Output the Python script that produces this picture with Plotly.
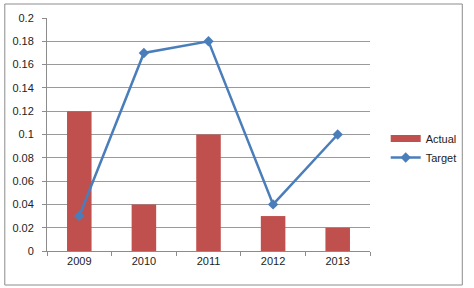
import plotly.graph_objects as go

years = ["2009", "2010", "2011", "2012", "2013"]
actual = [0.12, 0.04, 0.10, 0.03, 0.02]
target = [0.03, 0.17, 0.18, 0.04, 0.10]
yticks = [0, 0.02, 0.04, 0.06, 0.08, 0.1, 0.12, 0.14, 0.16, 0.18, 0.2]
ytick_text = ["0", "0.02", "0.04", "0.06", "0.08", "0.1", "0.12", "0.14", "0.16", "0.18", "0.2"]

W, H = 474, 288
L, R, T, B = 47, 98, 18, 37
pw, ph = W - L - R, H - T - B

def px(x):
    return (x - L) / pw

def py(y):
    return (H - B - y) / ph

fig = go.Figure()
fig.add_trace(go.Bar(x=years, y=actual, name="Actual", showlegend=False,
                     marker=dict(color="#C0504D", line=dict(width=0))))
# legend proxy for the bar series (rectangular swatch)
fig.add_trace(go.Scatter(x=[None], y=[None], name="Actual", mode="lines",
                         line=dict(color="#C0504D", width=7)))
fig.add_trace(go.Scatter(x=years, y=target, name="Target", mode="lines+markers",
                         line=dict(color="#4A7EBB", width=2.5),
                         marker=dict(symbol="diamond", size=8, color="#4A7EBB")))

fig.update_layout(
    width=W, height=H,
    margin=dict(l=L, r=R, t=T, b=B),
    paper_bgcolor="white", plot_bgcolor="white",
    font=dict(family="Liberation Sans", size=11, color="#222"),
    bargap=0.62,
    showlegend=True,
    legend=dict(x=px(392), y=py(124), xanchor="left", yanchor="top",
                bgcolor="rgba(0,0,0,0)", itemwidth=30, tracegroupgap=4,
                font=dict(size=11)),
    shapes=[dict(type="rect", xref="paper", yref="paper",
                 x0=px(4), x1=px(470), y0=py(285), y1=py(4),
                 line=dict(color="#8C8C8C", width=1), layer="below")],
)
fig.update_xaxes(showgrid=False, showline=True, linecolor="#8C8C8C", linewidth=1,
                 ticks="outside", ticklen=4, tickcolor="#8C8C8C", tickson="boundaries",
                 tickfont=dict(size=11))
fig.update_yaxes(range=[0, 0.2], tickvals=yticks, ticktext=ytick_text,
                 showgrid=True, gridcolor="#9A9A9A", gridwidth=1,
                 showline=True, linecolor="#8C8C8C", linewidth=1,
                 ticks="outside", ticklen=4, tickcolor="#8C8C8C",
                 zeroline=False, ticklabelstandoff=6, tickfont=dict(size=11))

fig.write_html("out.html")
